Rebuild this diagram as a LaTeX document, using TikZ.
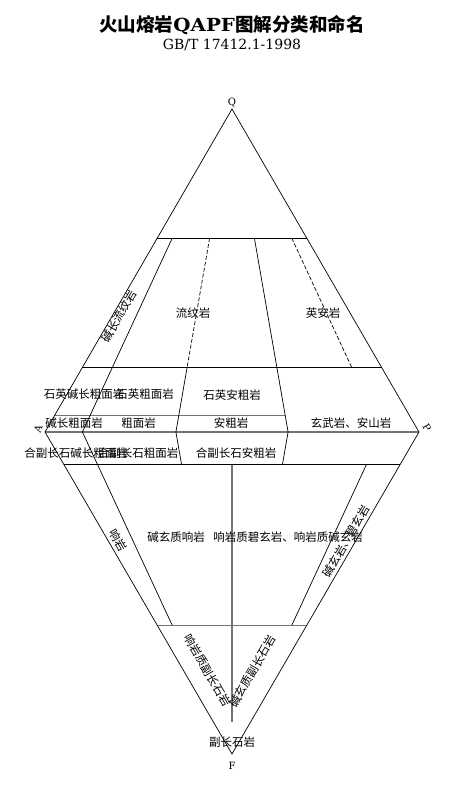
\documentclass[tikz,border=0pt]{standalone}
\usepackage{fontspec}
\setmainfont{DejaVu Serif}
\newfontfamily\cjk{Noto Sans CJK SC}
\begin{document}
\begin{tikzpicture}[x=1pt,y=-1pt,
  edge/.style={line width=0.7pt,black},
  greyline/.style={line width=1.1pt,black!55},
  dashline/.style={line width=0.7pt,black,dash pattern=on 4pt off 2pt},
  lbl/.style={font=\cjk\fontsize{11.5}{12}\selectfont,inner sep=0pt},
  vtx/.style={font=\fontsize{10}{12}\selectfont,inner sep=0pt}]
\useasboundingbox (0,0) rectangle (452,795);
\fill[white] (0,0) rectangle (452,795);
% title
\node[inner sep=0pt] (title) at (232,25) {{\cjk\bfseries\fontsize{18.5}{20}\selectfont 火山熔岩}{\bfseries\fontsize{18}{20}\selectfont\scalebox{1.1}[1]{QAPF}}{\cjk\bfseries\fontsize{18.5}{20}\selectfont 图解分类和命名}};
\node[inner sep=0pt,font=\fontsize{14}{16}\selectfont] (subtitle) at (232,44.7) {GB/T 17412.1-1998};
% vertices
\coordinate (Q) at (232,109);
\coordinate (A) at (45,432);
\coordinate (P) at (419,432);
\coordinate (F) at (232,754);
% horizontal line ends
\coordinate (q60l) at (157.2,238.2);
\coordinate (q60r) at (306.8,238.2);
\coordinate (q20l) at (82.4,367.4);
\coordinate (q20r) at (381.6,367.4);
\coordinate (q5l) at (54.35,415.85);
\coordinate (q5r) at (285.3,415.85);
\coordinate (f10l) at (63.7,464.2);
\coordinate (f10r) at (400.3,464.2);
\coordinate (f60l) at (157.2,625.2);
\coordinate (f60r) at (306.8,625.2);
% ratio lines
\coordinate (r10t) at (172.2,238.2);
\coordinate (r10m) at (82.4,432);
\coordinate (r10b) at (172.2,625.2);
\coordinate (r35t) at (209.6,238.2);
\coordinate (r35u) at (187.1,367.4);
\coordinate (r35m) at (175.9,432);
\coordinate (r35b) at (181.5,464.2);
\coordinate (r65t) at (254.4,238.2);
\coordinate (r65m) at (288.1,432);
\coordinate (r65b) at (282.5,464.2);
\coordinate (r90t) at (291.8,238.2);
\coordinate (r90u) at (351.7,367.4);
\coordinate (r90l) at (366.6,464.2);
\coordinate (r90b) at (291.8,625.2);
\coordinate (r50t) at (232,464.2);
\coordinate (r50b) at (232,721.8);
% grey lines
\draw[greyline] (q5l) -- (q5r);
\draw[greyline] (A) -- (P);
\draw[greyline] (r50t) -- (r50b);
\draw[greyline] (f60l) -- (f60r);
% outline
\draw[edge,line join=miter] (Q) -- (A) -- (F) -- (P) -- cycle;
% horizontals
\draw[edge] (q60l) -- (q60r);
\draw[edge] (q20l) -- (q20r);
\draw[edge] (f10l) -- (f10r);
% ratio lines
\draw[edge] (r10t) -- (r10m) -- (r10b);
\draw[dashline] (r35t) -- (r35u);
\draw[edge] (r35u) -- (r35m) -- (r35b);
\draw[edge] (r65t) -- (r65m) -- (r65b);
\draw[dashline] (r90t) -- (r90u);
\draw[edge] (r90l) -- (r90b);
% vertex labels
\node[vtx] (lQ) at (232,102.7) {Q};
\node[vtx,rotate=70] (lA) at (38.3,429) {A};
\node[vtx,rotate=-60] (lP) at (427,428) {P};
\node[vtx] (lF) at (232,765.7) {F};
% field labels
\node[lbl] (n1) at (193,313) {流纹岩};
\node[lbl] (n2) at (323,313) {英安岩};
\node[lbl,rotate=60] (n3) at (119,316) {碱长流纹岩};
\node[lbl] (n4) at (84,394) {石英碱长粗面岩};
\node[lbl] (n5) at (145,394) {石英粗面岩};
\node[lbl] (n6) at (232,395) {石英安粗岩};
\node[lbl] (n7) at (74,423.5) {碱长粗面岩};
\node[lbl] (n8) at (138.5,423.5) {粗面岩};
\node[lbl] (n9) at (231,423.5) {安粗岩};
\node[lbl] (n10) at (351,423.5) {玄武岩、安山岩};
\node[lbl] (n11) at (76,453.5) {合副长石碱长粗面岩};
\node[lbl] (n12) at (138,453.5) {合副长石粗面岩};
\node[lbl] (n13) at (236,453.5) {合副长石安粗岩};
\node[lbl] (n14) at (176,537) {碱玄质响岩};
\node[lbl] (n15) at (288,537) {响岩质碧玄岩、响岩质碱玄岩};
\node[lbl,rotate=-60] (n16) at (118.5,540) {响岩};
\node[lbl,rotate=60] (n17) at (346,541) {碱玄岩、碧玄岩};
\node[lbl,rotate=-60] (n18) at (207.5,670) {响岩质副长石岩};
\node[lbl,rotate=60] (n19) at (252.5,671.5) {碱玄质副长石岩};
\node[lbl] (n20) at (232,742) {副长石岩};
\end{tikzpicture}
\end{document}
